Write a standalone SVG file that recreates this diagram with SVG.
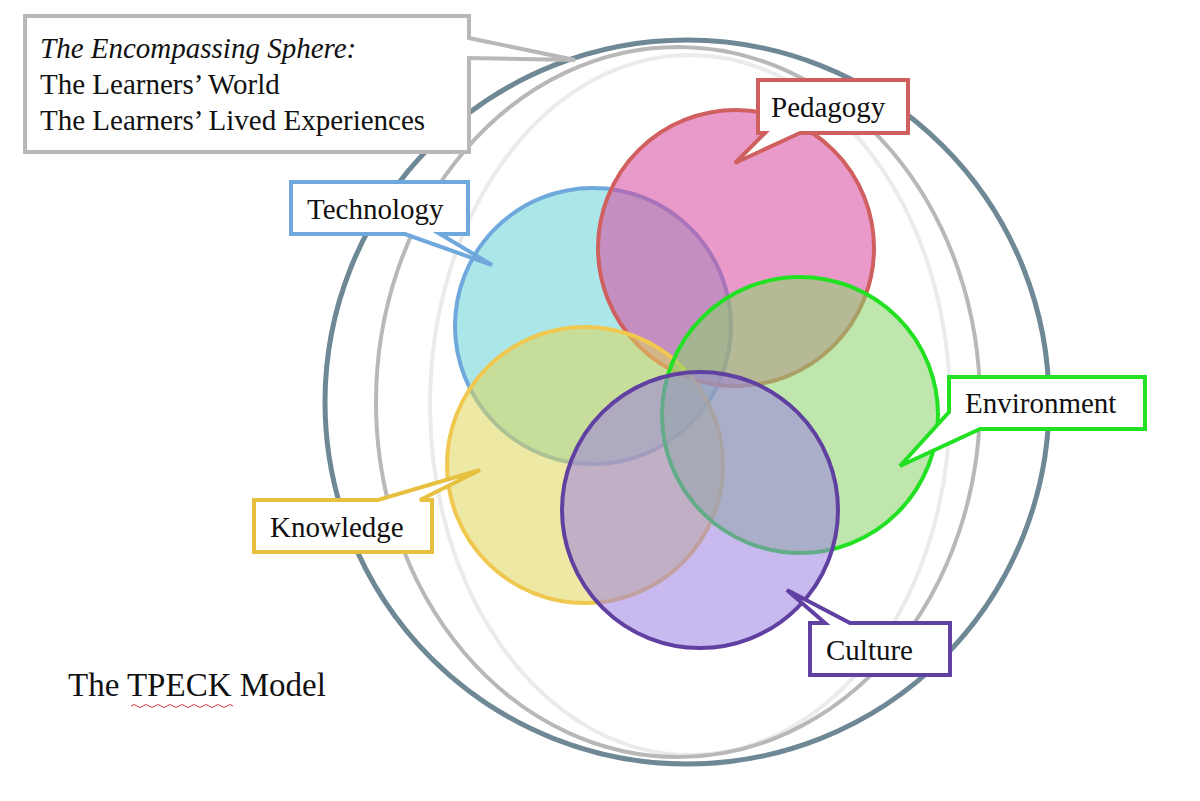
<svg xmlns="http://www.w3.org/2000/svg" width="1200" height="801" viewBox="0 0 1200 801">
<style>
text{font-family:"Liberation Serif","Times New Roman",serif;font-size:29px;fill:#111}
.c{stroke-width:4;fill-opacity:0.55}
.co{fill:#fff;stroke-width:4}
</style>
<rect width="1200" height="801" fill="#fff"/>
<g id="sphere" fill="none">
<ellipse cx="690" cy="405" rx="260" ry="350" stroke="#ebebeb" stroke-width="4"/>
<ellipse cx="678" cy="402" rx="302" ry="355" stroke="#b8b8b8" stroke-width="4"/>
<ellipse cx="687" cy="402" rx="362" ry="362" stroke="#6e8896" stroke-width="5"/>
</g>
<g id="technology"><circle class="c" cx="593" cy="326" r="138" fill="#66d4d6" stroke="#6fa8dc"/></g>
<g id="pedagogy"><circle class="c" cx="736" cy="248" r="138" fill="#d9479f" stroke="#d06060"/></g>
<g id="knowledge"><circle class="c" cx="585" cy="465" r="138" fill="#dfd55a" stroke="#f0c850"/></g>
<g id="environment"><circle class="c" cx="800" cy="415" r="138" fill="#8bd46a" stroke="#22e022"/></g>
<g id="culture"><circle class="c" cx="700" cy="510" r="138" fill="#9b7fe0" stroke="#6040a0"/></g>
<g id="connectors">
<path class="co" stroke="#b8b8b8" d="M25,16H469V38L575,60L469,58V152H25Z"/>
<path class="co" stroke="#d06060" d="M758,80H908V133H800L735,163L765,133H758Z"/>
<path class="co" stroke="#6fa8dc" d="M291,182H468V234H440L492,265L405,234H291Z"/>
<path class="co" stroke="#22e022" d="M949,377H1145V429H980L900,466L949,412Z"/>
<path class="co" stroke="#e8c040" d="M254,500H378L480,470L420,500H432V552H254Z"/>
<path class="co" stroke="#6040a0" d="M810,623H825L787,590L850,623H950V675H810Z"/>
</g>
<g id="labels">
<text x="40" y="58" font-style="italic">The Encompassing Sphere:</text>
<text x="40" y="94">The Learners’ World</text>
<text x="40" y="130">The Learners’ Lived Experiences</text>
<text x="771" y="117">Pedagogy</text>
<text x="307" y="219">Technology</text>
<text x="965" y="413">Environment</text>
<text x="270" y="537">Knowledge</text>
<text x="826" y="660">Culture</text>
<text x="68" y="696" style="font-size:33px">The TPECK Model</text>
<path d="M131,706q3,-3 6,0t6,0t6,0t6,0t6,0t6,0t6,0t6,0t6,0t6,0t6,0t6,0t6,0t6,0t6,0t6,0t6,0" fill="none" stroke="#d04040" stroke-width="1"/>
</g>
</svg>
